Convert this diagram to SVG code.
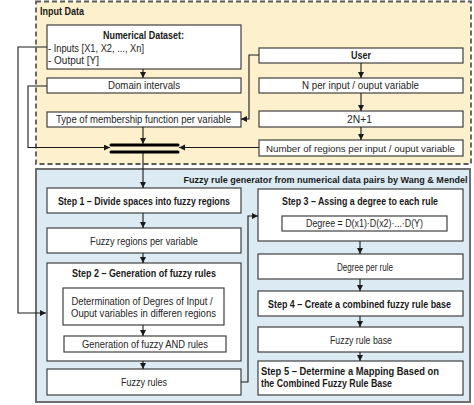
<svg xmlns="http://www.w3.org/2000/svg" width="474" height="405" viewBox="0 0 474 405">
<defs>
<style>
.box{fill:#ffffff;stroke:#404040;stroke-width:1.2}
.t{font-family:"Liberation Sans",Arial,sans-serif;font-size:10px;fill:#262626}
.m{text-anchor:middle}
.b{font-weight:bold;fill:#1a1a1a}
.c{stroke:#1a1a1a;stroke-width:1.1;fill:none}
.bar{stroke:#000000;stroke-width:3;stroke-linecap:round}
</style>
<marker id="ah" markerUnits="userSpaceOnUse" markerWidth="7" markerHeight="7" refX="6" refY="3" orient="auto">
<path d="M0,0 L6,3 L0,6 z" fill="#1a1a1a"/>
</marker>
</defs>
<rect width="474" height="405" fill="#ffffff"/>

<g id="input-data">
<rect x="36" y="1.5" width="435" height="162.5" fill="#fdf0cc" stroke="#5a5a5a" stroke-width="1.8" stroke-dasharray="5,3"/>
<text class="t b" x="40" y="15" textLength="44" lengthAdjust="spacingAndGlyphs">Input Data</text>
</g>

<g id="generator">
<rect x="36" y="169" width="434" height="233" fill="#dbeaf3" stroke="#6e6e6e" stroke-width="2"/>
<text class="t b" x="325.5" y="182.5" text-anchor="middle" style="font-size:8.3px" textLength="284" lengthAdjust="spacingAndGlyphs">Fuzzy rule generator from numerical data pairs by Wang &amp; Mendel</text>
</g>

<g id="numerical-dataset">
<rect class="box" x="47" y="25" width="194" height="44"/>
<text class="t b m" x="143.5" y="38.5" textLength="81" lengthAdjust="spacingAndGlyphs">Numerical Dataset:</text>
<text class="t" x="48" y="51.5" textLength="96" lengthAdjust="spacingAndGlyphs">- Inputs [X1, X2, ..., Xn]</text>
<text class="t" x="48" y="64" textLength="51" lengthAdjust="spacingAndGlyphs">- Output [Y]</text>
</g>
<g id="domain-intervals">
<rect class="box" x="47" y="78" width="194" height="15"/>
<text class="t m" x="144" y="89" textLength="72" lengthAdjust="spacingAndGlyphs">Domain intervals</text>
</g>
<g id="membership">
<rect class="box" x="47" y="112" width="194" height="15"/>
<text class="t m" x="143.5" y="123" textLength="175" lengthAdjust="spacingAndGlyphs">Type of membership function per variable</text>
</g>
<g id="user">
<rect class="box" x="259" y="48" width="204" height="15"/>
<text class="t b m" x="361" y="59" textLength="20" lengthAdjust="spacingAndGlyphs">User</text>
</g>
<g id="n-per-input">
<rect class="box" x="259" y="78" width="204" height="15"/>
<text class="t m" x="360.5" y="89" textLength="117" lengthAdjust="spacingAndGlyphs">N per input / ouput variable</text>
</g>
<g id="two-n-plus-one">
<rect class="box" x="259" y="111" width="204" height="16"/>
<text class="t m" x="359.5" y="122.5" textLength="25" lengthAdjust="spacingAndGlyphs">2N+1</text>
</g>
<g id="number-of-regions">
<rect class="box" x="259" y="140" width="204" height="16"/>
<text class="t m" x="360.5" y="151.5" style="font-size:9.5px" textLength="189" lengthAdjust="spacingAndGlyphs">Number of regions per input / ouput variable</text>
</g>
<g id="join-bar">
<line class="bar" x1="111" y1="145" x2="178" y2="145"/>
<line class="bar" x1="111" y1="152" x2="178" y2="152"/>
</g>

<g id="step1">
<rect class="box" x="47" y="188" width="194" height="25"/>
<text class="t b m" x="144" y="204.5" textLength="172" lengthAdjust="spacingAndGlyphs">Step 1 – Divide spaces into fuzzy regions</text>
</g>
<g id="fuzzy-regions">
<rect class="box" x="47" y="228" width="194" height="25"/>
<text class="t m" x="144" y="244.5" textLength="108" lengthAdjust="spacingAndGlyphs">Fuzzy regions per variable</text>
</g>
<g id="step2">
<rect class="box" x="47" y="263" width="194" height="98"/>
<text class="t b m" x="144" y="276.5" textLength="144" lengthAdjust="spacingAndGlyphs">Step 2 – Generation of fuzzy rules</text>
</g>
<g id="determination">
<rect class="box" x="63" y="288" width="161" height="37"/>
<text class="t m" x="142" y="304.5" textLength="141" lengthAdjust="spacingAndGlyphs">Determination of Degres of Input /</text>
<text class="t m" x="143.5" y="316.5" textLength="145" lengthAdjust="spacingAndGlyphs">Ouput variables in differen regions</text>
</g>
<g id="and-rules">
<rect class="box" x="64" y="336" width="162" height="16"/>
<text class="t m" x="145" y="347.5" textLength="126" lengthAdjust="spacingAndGlyphs">Generation of fuzzy AND rules</text>
</g>
<g id="fuzzy-rules">
<rect class="box" x="47" y="369" width="194" height="26"/>
<text class="t m" x="144" y="385.5" textLength="46" lengthAdjust="spacingAndGlyphs">Fuzzy rules</text>
</g>
<g id="step3">
<rect class="box" x="258" y="189" width="205" height="52"/>
<text class="t b m" x="360" y="204.5" textLength="156" lengthAdjust="spacingAndGlyphs">Step 3 – Assing a degree to each rule</text>
</g>
<g id="degree-formula">
<rect class="box" x="282" y="216" width="165" height="15"/>
<text class="t m" x="364.5" y="227" textLength="117" lengthAdjust="spacingAndGlyphs">Degree = D(x1)·D(x2)·...·D(Y)</text>
</g>
<g id="degree-per-rule">
<rect class="box" x="258" y="254" width="205" height="25"/>
<text class="t m" x="365" y="270.5" textLength="56" lengthAdjust="spacingAndGlyphs">Degree per rule</text>
</g>
<g id="step4">
<rect class="box" x="258" y="291" width="205" height="25"/>
<text class="t b m" x="359.5" y="307.5" textLength="183" lengthAdjust="spacingAndGlyphs">Step 4 – Create a combined fuzzy rule base</text>
</g>
<g id="fuzzy-rule-base">
<rect class="box" x="258" y="327" width="205" height="25"/>
<text class="t m" x="361" y="343.5" textLength="62" lengthAdjust="spacingAndGlyphs">Fuzzy rule base</text>
</g>
<g id="step5">
<rect class="box" x="258" y="361" width="205" height="34"/>
<text class="t b" x="261" y="374.5" textLength="178" lengthAdjust="spacingAndGlyphs">Step 5  –  Determine a Mapping Based on</text>
<text class="t b" x="261" y="386.5" textLength="131" lengthAdjust="spacingAndGlyphs">the Combined Fuzzy Rule Base</text>
</g>

<g id="connectors">
<line class="c" x1="143" y1="69" x2="143" y2="78" marker-end="url(#ah)"/>
<line class="c" x1="143" y1="127" x2="143" y2="144" marker-end="url(#ah)"/>
<polyline class="c" points="47,86 28,86 28,147.5 110,147.5" marker-end="url(#ah)"/>
<line class="c" x1="259" y1="147.5" x2="179" y2="147.5" marker-end="url(#ah)"/>
<polyline class="c" points="259,55 249,55 249,119 241,119" marker-end="url(#ah)"/>
<line class="c" x1="361" y1="63" x2="361" y2="78" marker-end="url(#ah)"/>
<line class="c" x1="361" y1="93" x2="361" y2="111" marker-end="url(#ah)"/>
<line class="c" x1="361" y1="127" x2="361" y2="140" marker-end="url(#ah)"/>
<line class="c" x1="143" y1="153" x2="143" y2="188" marker-end="url(#ah)"/>
<line class="c" x1="143" y1="213" x2="143" y2="228" marker-end="url(#ah)"/>
<line class="c" x1="143" y1="253" x2="143" y2="263" marker-end="url(#ah)"/>
<line class="c" x1="143" y1="325" x2="143" y2="336" marker-end="url(#ah)"/>
<line class="c" x1="143" y1="361" x2="143" y2="369" marker-end="url(#ah)"/>
<polyline class="c" points="47,47 18,47 18,313 46,313" marker-end="url(#ah)"/>
<polyline class="c" points="241,382 248,382 248,216 258,216" marker-end="url(#ah)"/>
<line class="c" x1="360" y1="241" x2="360" y2="254" marker-end="url(#ah)"/>
<line class="c" x1="360" y1="279" x2="360" y2="291" marker-end="url(#ah)"/>
<line class="c" x1="360" y1="316" x2="360" y2="327" marker-end="url(#ah)"/>
<line class="c" x1="360" y1="352" x2="360" y2="361" marker-end="url(#ah)"/>
</g>
</svg>
